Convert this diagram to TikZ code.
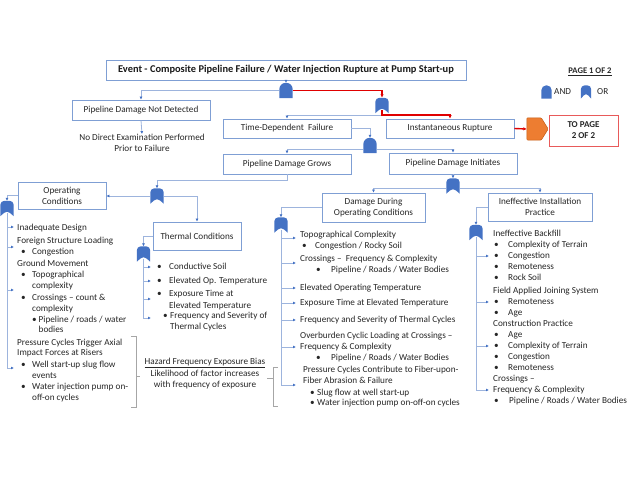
\documentclass[tikz,border=0pt]{standalone}
\usepackage{fontspec}
\setmainfont{Carlito}
\usetikzlibrary{arrows.meta,calc}
\definecolor{boxblue}{HTML}{7F9FD4}
\definecolor{linblue}{HTML}{9DB4DD}
\definecolor{gateblue}{HTML}{4472C4}
\definecolor{redl}{HTML}{E00000}
\definecolor{redbox}{HTML}{E85A5A}
\definecolor{orng}{HTML}{ED7D31}
\definecolor{orngd}{HTML}{C55A11}
\definecolor{txt}{HTML}{262626}
\definecolor{brk}{HTML}{A6A6A6}
\newcommand\andg[2]{\fill[gateblue] (#1.south east) -- (#1.south west) [rounded corners=#2pt] -- (#1.north west) -- (#1.north east) [sharp corners] -- (#1.south east) -- cycle;}
\newcommand\org[1]{\fill[gateblue] (#1.south west) [rounded corners=4pt] -- (#1.north west) -- (#1.north east) [sharp corners] -- (#1.south east) .. controls ([yshift=6pt]#1.south) .. (#1.south west) -- cycle;}
\newcommand\bl[1]{\makebox[#1][l]{\textbullet}}
\begin{document}
\begin{tikzpicture}[x=1pt,y=-1pt, font=\fontsize{9.2}{11}\selectfont, text=txt,
 box/.style={draw=boxblue, line width=0.8pt, align=center, inner sep=0pt},
 conn/.style={draw=linblue, line width=0.8pt},
 arr/.style={-{Latex[length=3pt,width=3pt,color=gateblue]}},
 redc/.style={draw=redl, line width=1.4pt, -{Latex[length=3.5pt,width=3.5pt]}},
 gate/.style={minimum width=13pt, minimum height=15pt, inner sep=0pt},
 lgate/.style={minimum width=10pt, minimum height=13pt, inner sep=0pt},
 lt/.style={anchor=west, inner sep=0pt, text height=6.4pt, text depth=1.9pt},
 ct/.style={inner sep=0pt, text height=6.4pt, text depth=1.9pt},
 brkl/.style={draw=brk, line width=0.6pt}
 ]
\useasboundingbox (0,0) rectangle (638,478);

% ---------- top part ----------
\node[box,minimum width=360pt,minimum height=20pt,font=\fontsize{10.4}{12}\selectfont\bfseries,text=black!90] (title) at (286,70) {Event - Composite Pipeline Failure / Water Injection Rupture at Pump Start-up};
\node[ct,font=\fontsize{8.6}{10}\selectfont\bfseries] (pg) at (590,71) {\underline{PAGE 1 OF 2}};
\node[lgate] (lga) at (546.5,92) {};
\node[lt] (lta) at (554,92) {AND};
\node[lgate] (lgo) at (586,92) {};
\node[lt] (lto) at (597,92) {OR};

\node[gate] (g1) at (286,90.5) {};
\node[gate] (g2) at (382,105.5) {};
\node[box,minimum width=138pt,minimum height=20pt] (pdnd) at (141,110) {Pipeline Damage Not Detected};
\node[align=center,inner sep=0pt] (nde) at (142,143) {No Direct Examination Performed\\Prior to Failure};
\node[box,minimum width=128pt,minimum height=19pt] (tdf) at (287,128.5) {Time-Dependent\ \ Failure};
\node[box,minimum width=128pt,minimum height=19pt] (inst) at (450,128.5) {Instantaneous Rupture};
\node[minimum width=21pt,minimum height=22pt,inner sep=0pt] (offp) at (537.5,129) {};
\node[draw=redbox,line width=0.9pt,minimum width=69pt,minimum height=31pt,align=center,inner sep=0pt,font=\fontsize{9}{11}\selectfont\bfseries,text=black!85] (topg) at (583.5,130.5) {TO PAGE\\2 OF 2};

\node[gate] (g3) at (370,145.5) {};
\node[box,minimum width=128pt,minimum height=20pt] (pdg) at (287,164) {Pipeline Damage Grows};
\node[box,minimum width=128pt,minimum height=21pt] (pdi) at (453,163.5) {Pipeline Damage Initiates};
\node[gate] (g9) at (453,186) {};
\node[gate] (g4) at (157,196) {};
\node[box,minimum width=88pt,minimum height=27pt] (opc) at (62,195.5) {Operating\\Conditions};
\node[gate] (g5) at (7,208.5) {};
\node[box,minimum width=88pt,minimum height=28pt] (thc) at (197,236) {Thermal Conditions};
\node[gate] (g6) at (143.5,254) {};
\node[box,minimum width=103pt,minimum height=29pt] (ddoc) at (373.5,207.5) {Damage During\\Operating Conditions};
\node[gate] (g7) at (281,225) {};
\node[box,minimum width=104pt,minimum height=28pt] (iip) at (540,207) {Ineffective Installation\\Practice};
\node[gate] (g8) at (476,232.5) {};

% ---------- connectors ----------
\draw[conn,arr] (title.south -| g1) -- (g1.north);
\draw[conn,arr] (g1.west) -| (pdnd.north);
\draw[conn,arr] (pdnd.south) -- (nde.north);
\coordinate (j2) at (382,115);
\draw[conn,arr] (j2) -| (tdf.north);
\draw[redc] (g1.east) -| (g2.north);
\draw[redc] ([yshift=3pt]g2.south) -- (j2) -| (inst.north);
\draw[redc] (inst.east) -- (offp.west);
\draw[conn,arr] (tdf.east) -| (g3.north);
\draw[conn,arr] ([yshift=-3.5pt]g3.west) -| (pdg.north);
\draw[conn,arr] ([yshift=-3.5pt]g3.east) -| (pdi.north);
\draw[conn,arr] (pdi.south) -- (g9.north);
\draw[conn,arr] ([yshift=-2pt]g9.west) -| (ddoc.north);
\draw[conn,arr] ([yshift=-2pt]g9.east) -| (iip.north);
\draw[conn,arr] (pdg.south) -- ++(0,6) -| (g4.north);
\draw[conn,arr] (g4.west) -- (g4.west -| opc.east);
\draw[conn,arr] (g4.east) -| (thc.north);
\draw[conn,arr] (opc.west) -| (g5.north);
\draw[conn,arr] (thc.west) -| (g6.north);
\draw[conn,arr] (ddoc.west) -| (g7.north);
\draw[conn,arr] (iip.west) -| (g8.north);

% spines
\coordinate (s5) at (14,368);
\draw[conn,arr] ([yshift=3pt]g5.south) |- (s5);
\foreach \n/\yy in {a/227,b/247,c/290}{\coordinate (a5\n) at (14,\yy); \draw[conn,arr] (a5\n -| g5) -- (a5\n);}
\coordinate (s6) at (151,318);
\draw[conn,arr] ([yshift=3pt]g6.south) |- (s6);
\foreach \n/\yy in {a/267,b/281,c/299}{\coordinate (a6\n) at (151,\yy); \draw[conn,arr] (a6\n -| g6) -- (a6\n);}
\coordinate (s7) at (296,385);
\draw[conn,arr] ([yshift=3pt]g7.south) |- (s7);
\foreach \n/\yy in {a/238,b/263,c/288,d/303,e/320,f/347}{\coordinate (a7\n) at (296,\yy); \draw[conn,arr] (a7\n -| g7) -- (a7\n);}
\coordinate (s8) at (489,390);
\draw[conn,arr] ([yshift=3pt]g8.south) |- (s8);
\foreach \n/\yy in {a/256,b/302,c/346}{\coordinate (a8\n) at (489,\yy); \draw[conn,arr] (a8\n -| g8) -- (a8\n);}

% gate shapes
\andg{g1}{6.5} \andg{g3}{6.5} \andg{lga}{5}
\org{g2} \org{g9} \org{g4} \org{g5} \org{g6} \org{g7} \org{g8} \org{lgo}
\fill[orng,draw=orngd,line width=0.5pt,rounded corners=1pt] (offp.north west) -- ([xshift=-7pt]offp.north east) -- (offp.east) -- ([xshift=-7pt]offp.south east) -- (offp.south west) -- cycle;

% ---------- left column ----------
\node[lt] (l1) at (17,228) {Inadequate Design};
\node[lt] (l2) at (17,241) {Foreign Structure Loading};
\node[lt] (l3) at (21,252) {\bl{11pt}Congestion};
\node[lt] (l4) at (17,264) {Ground Movement};
\node[lt] (l5) at (21,275) {\bl{11pt}Topographical};
\node[lt] (l6) at (32,286) {complexity};
\node[lt] (l7) at (21,298) {\bl{11pt}Crossings -- count \&};
\node[lt] (l8) at (32,309) {complexity};
\node[lt] (l9) at (32,320) {\bl{6.5pt}Pipeline / roads / water};
\node[lt] (l10) at (38.5,330) {bodies};
\node[lt] (l11) at (17,343) {Pressure Cycles Trigger Axial};
\node[lt] (l12) at (17,353) {Impact Forces at Risers};
\node[lt] (l13) at (21,365) {\bl{11pt}Well start-up slug flow};
\node[lt] (l14) at (32,376) {events};
\node[lt] (l15) at (21,387) {\bl{11pt}Water injection pump on-};
\node[lt] (l16) at (32,398) {off-on cycles};

% ---------- thermal column ----------
\node[lt] (t1) at (157,267) {\bl{12pt}Conductive Soil};
\node[lt] (t2) at (157,281) {\bl{12pt}Elevated Op. Temperature};
\node[lt] (t3) at (157,294) {\bl{12pt}Exposure Time at};
\node[lt] (t4) at (169,306) {Elevated Temperature};
\node[lt] (t5) at (163,316) {\bl{7pt}Frequency and Severity of};
\node[lt] (t6) at (170,327) {Thermal Cycles};

% hazard text and brackets
\node[ct] (h1) at (205,362) {\underline{Hazard Frequency Exposure Bias}};
\node[ct] (h2) at (205,374.5) {Likelihood of factor increases};
\node[ct] (h3) at (205,385.5) {with frequency of exposure};
\draw[brkl] (131,336) -- (136,336) -- (136,407) -- (131,407);
\draw[brkl] (136,376) -- (140,376);
\draw[brkl] (278,367) -- (273,367) -- (273,406) -- (278,406);
\draw[brkl] (273,378) -- (267,378);

% ---------- middle column ----------
\node[lt] (m1) at (300,235) {Topographical Complexity};
\node[lt] (m2) at (302,246) {\bl{13pt}Congestion / Rocky Soil};
\node[lt] (m3) at (300,259) {Crossings --\ \ Frequency \& Complexity};
\node[lt] (m4) at (316,270) {\bl{15pt}Pipeline / Roads / Water Bodies};
\node[lt] (m5) at (300,288) {Elevated Operating Temperature};
\node[lt] (m6) at (300,303) {Exposure Time at Elevated Temperature};
\node[lt] (m7) at (300,320) {Frequency and Severity of Thermal Cycles};
\node[lt] (m8) at (300,336) {Overburden Cyclic Loading at Crossings --};
\node[lt] (m9) at (300,347) {Frequency \& Complexity};
\node[lt] (m10) at (316,358) {\bl{15pt}Pipeline / Roads / Water Bodies};
\node[lt] (m11) at (303,370) {Pressure Cycles Contribute to Fiber-upon-};
\node[lt] (m12) at (303,381) {Fiber Abrasion \& Failure};
\node[lt] (m13) at (310,393) {\bl{7pt}Slug flow at well start-up};
\node[lt] (m14) at (310,403) {\bl{7pt}Water injection pump on-off-on cycles};

% ---------- right column ----------
\node[lt] (r1) at (493,234) {Ineffective Backfill};
\node[lt] (r2) at (494,245) {\bl{14pt}Complexity of Terrain};
\node[lt] (r3) at (494,256) {\bl{14pt}Congestion};
\node[lt] (r4) at (494,267) {\bl{14pt}Remoteness};
\node[lt] (r5) at (494,278) {\bl{14pt}Rock Soil};
\node[lt] (r6) at (493,291) {Field Applied Joining System};
\node[lt] (r7) at (494,302) {\bl{14pt}Remoteness};
\node[lt] (r8) at (494,313) {\bl{14pt}Age};
\node[lt] (r9) at (493,324) {Construction Practice};
\node[lt] (r10) at (494,335) {\bl{14pt}Age};
\node[lt] (r11) at (494,346) {\bl{14pt}Complexity of Terrain};
\node[lt] (r12) at (494,357) {\bl{14pt}Congestion};
\node[lt] (r13) at (494,368) {\bl{14pt}Remoteness};
\node[lt] (r14) at (493,379) {Crossings --};
\node[lt] (r15) at (493,390) {Frequency \& Complexity};
\node[lt] (r16) at (494,401) {\bl{15pt}Pipeline / Roads / Water Bodies};
\end{tikzpicture}
\end{document}
